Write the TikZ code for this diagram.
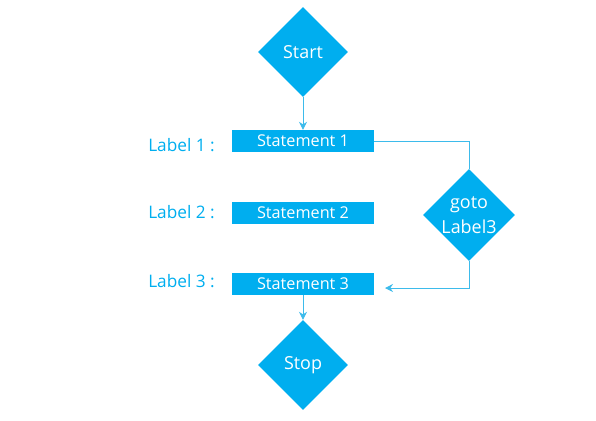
\documentclass[tikz,border=0pt]{standalone}
\usepackage{fontspec}
\setmainfont{Open Sans}
\usetikzlibrary{shapes.geometric,arrows.meta}
\definecolor{cy}{HTML}{00AEEF}
\definecolor{cyl}{HTML}{3DBBEB}
\tikzset{
  dia/.style={diamond,fill=cy,text=white,inner sep=0pt,minimum width=90bp,minimum height=90bp,aspect=1,font=\fontsize{18}{25}\selectfont,align=center},
  stmt/.style={rectangle,fill=cy,text=white,minimum width=142bp,minimum height=22bp,inner sep=0pt,font=\fontsize{16.3}{18}\selectfont},
  lbl/.style={text=cy,anchor=east,inner sep=0pt,font=\fontsize{17.3}{19}\selectfont},
  conn/.style={draw=cyl,line width=0.9bp,-{Stealth[length=8bp,width=8bp]}}
}
\begin{document}
\begin{tikzpicture}[x=1bp,y=-1bp]
\useasboundingbox (0,0) rectangle (596,420);
\node[dia] (start) at (303,52) {Start};
\node[stmt] (s1) at (303,141) {Statement 1};
\node[stmt] (s2) at (303,212.5) {Statement 2};
\node[stmt] (s3) at (303,284) {Statement 3};
\node[dia,minimum width=88bp] (goto) at (469,215) {goto\\Label3};
\node[dia] (stop) at (303,365) {Stop};
\node[lbl] (l1) at (215,145) {Label 1 :};
\node[lbl] (l2) at (215,212) {Label 2 :};
\node[lbl] (l3) at (215,281) {Label 3 :};
\coordinate (in3) at (385,288);
\draw[conn] (start.south) -- (s1.north);
\draw[conn] (s3.south) -- (stop.north);
\draw[draw=cyl,line width=0.9bp] (s1.east) -| (goto.north);
\draw[conn] (goto.south) |- (in3);
\end{tikzpicture}
\end{document}
